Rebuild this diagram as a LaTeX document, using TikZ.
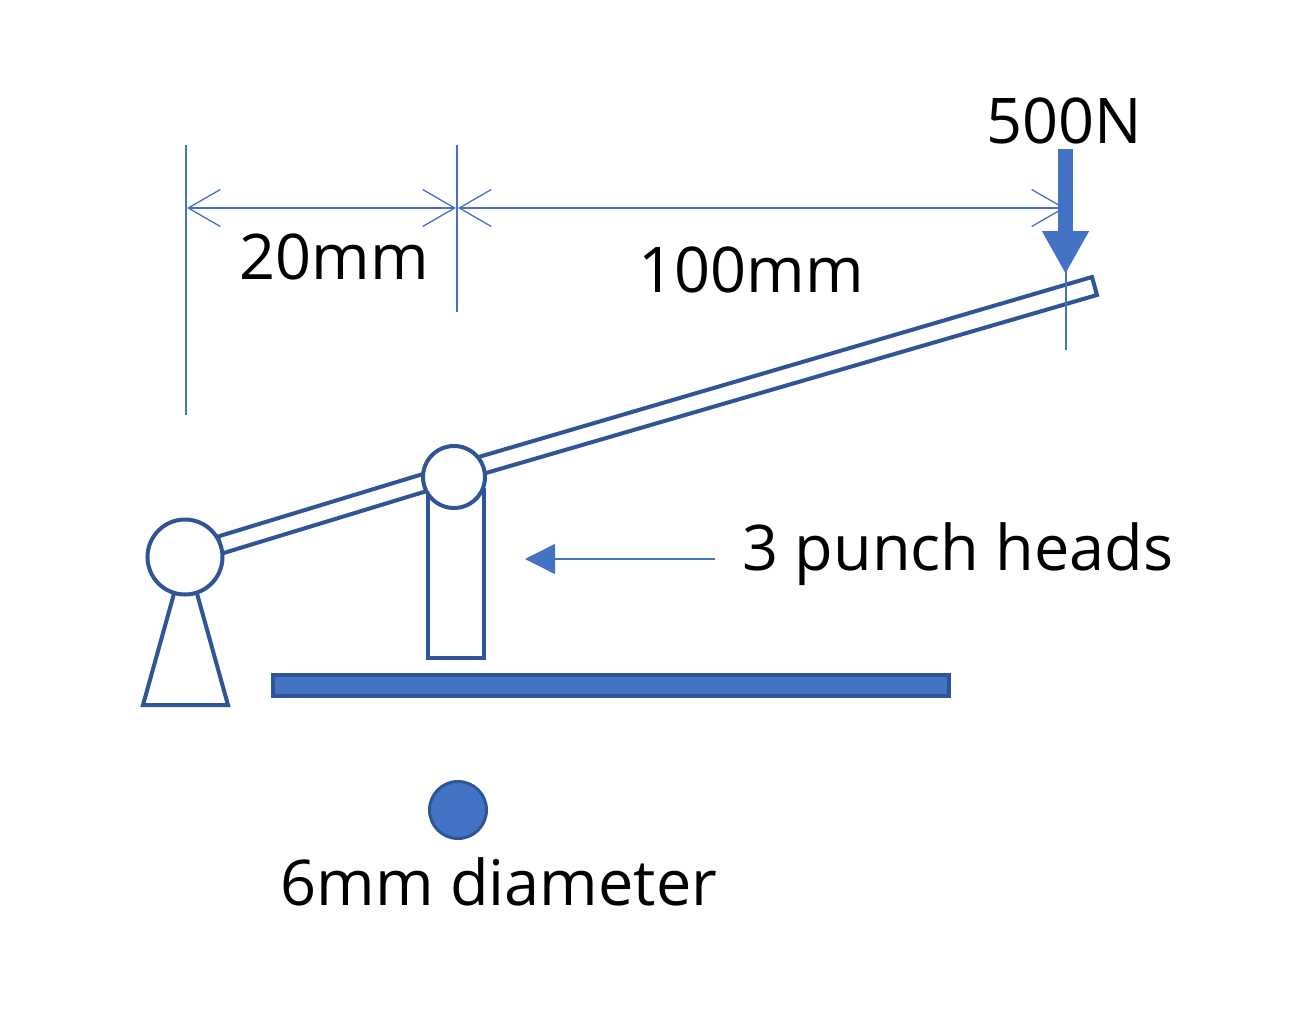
\documentclass[tikz,border=0pt]{standalone}
\usepackage{fontspec}
\setmainfont{Open Sans}
\usetikzlibrary{arrows.meta}
\definecolor{dk}{HTML}{2F5597}
\definecolor{ac}{HTML}{4472C4}
\tikzset{x=1pt,y=-1pt,
 partshape/.style={draw=dk,line width=4pt,fill=white},
 dimline/.style={draw=ac,line width=1.3pt},
 dimarrow/.style={dimline,{Straight Barb[length=32pt,width=37pt,line width=1.3pt]}-{Straight Barb[length=32pt,width=37pt,line width=1.3pt]}},
 lab/.style={font=\fontsize{63}{63}\selectfont,text=black,inner sep=0pt,anchor=base}}
\begin{document}
\begin{tikzpicture}
\useasboundingbox (0,0) rectangle (1315,1015);
\coordinate (e1) at (186,145); \coordinate (e1b) at (186,415);
\coordinate (e2) at (457,145); \coordinate (e2b) at (457,312);
\coordinate (e3) at (1066,210); \coordinate (e3b) at (1066,350);
\coordinate (a1) at (187,208); \coordinate (a2) at (456,208); \coordinate (a3) at (458,208); \coordinate (a4) at (1065,208);
\draw[partshape] (218,536.5)--(482,456)--(1092,277)--(1097,295)--(486,473)--(222,553.5)--cycle;
\draw[dimline] (e1)--(e1b); \draw[dimline] (e2)--(e2b); \draw[dimline] (e3)--(e3b);
\draw[dimarrow] (a1)--(a2); \draw[dimarrow] (a3)--(a4);
\draw[partshape] (428,490) rectangle (484,658);
\draw[partshape] (175,590)--(196,590)--(228,705)--(143,705)--cycle;
\node[partshape,circle,minimum size=75pt,inner sep=0pt] (piv) at (185,557) {};
\node[partshape,circle,minimum size=62pt,inner sep=0pt] (pin) at (454,477) {};
\node[draw=dk,line width=4pt,fill=ac,minimum width=676pt,minimum height=21pt,inner sep=0pt] (plate) at (610.5,685) {};
\node[circle,draw=dk,line width=3pt,fill=ac,minimum size=57pt,inner sep=0pt] (dot) at (458,810) {};
\coordinate (f1) at (1065.5,149); \coordinate (f2) at (1065.5,274);
\draw[ac,line width=15pt,-{Triangle[length=43pt,width=44pt]}] (f1)--(f2);
\coordinate (h1) at (715,559); \coordinate (h2) at (525,559);
\draw[ac,line width=1.5pt,-{Triangle[length=30pt,width=30pt]}] (h1)--(h2);
\node[lab] (t1) at (1064,143) {500N};
\node[lab] (t2) at (334,279) {20mm};
\node[lab] (t3) at (751,292) {100mm};
\node[lab] (t4) at (958,570) {3 punch heads};
\node[lab] (t5) at (499,905) {6mm diameter};
\end{tikzpicture}
\end{document}
